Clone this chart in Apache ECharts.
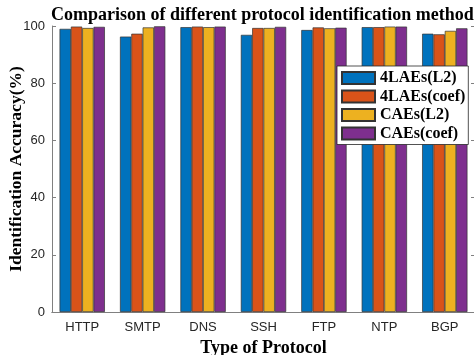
<!DOCTYPE html>
<html>
<head>
<meta charset="utf-8">
<script src="https://cdn.jsdelivr.net/npm/echarts@6/dist/echarts.min.js"></script>
<style>html,body{margin:0;padding:0;background:#fff}#c{width:474px;height:355px}</style>
</head>
<body>
<div id="c"></div>
<script>
const categories = ['HTTP','SMTP','DNS','SSH','FTP','NTP','BGP'];
const seriesNames = ['4LAEs(L2)','4LAEs(coef)','CAEs(L2)','CAEs(coef)'];
const lae_l2   = [99.0, 96.3, 99.6, 96.9, 98.6, 99.6, 97.3];
const lae_coef = [99.8, 97.3, 99.8, 99.3, 99.5, 99.6, 97.1];
const cae_l2   = [99.3, 99.5, 99.6, 99.3, 99.2, 99.8, 98.3];
const cae_coef = [99.7, 99.9, 99.8, 99.7, 99.4, 99.8, 99.2];
const yTicks = [0, 20, 40, 60, 80, 100];
const colors = ['#0072BD','#D95319','#EDB120','#7E2F8E'];

const values = [lae_l2, lae_coef, cae_l2, cae_coef];
const chart = echarts.init(document.getElementById('c'), null, {renderer:'canvas'});
const axisCol = '#262626';
const serifBold = {fontFamily:'Liberation Serif', fontWeight:'bold', color:'#000'};
chart.setOption({
  animation:false,
  backgroundColor:'#fff',
  title:{
    text:'Comparison of different protocol identification methods',
    left:46, top:1,
    textStyle:Object.assign({fontSize:18}, serifBold)
  },
  legend:{
    orient:'vertical', left:337, top:66,
    backgroundColor:'#fff', borderColor:axisCol, borderWidth:0.8,
    padding:[4,3,3,4],
    itemWidth:33, itemHeight:12, itemGap:2.5,
    icon:'rect',
    textStyle:Object.assign({fontSize:16}, serifBold),
    data:seriesNames
  },
  grid:{left:52, top:26, right:-1, bottom:43, containLabel:false, outerBoundsMode:'none'},
  xAxis:[{
    type:'category', data:categories,
    axisLine:{lineStyle:{color:'#808080', width:1}},
    axisTick:{show:false},
    axisLabel:{color:axisCol, fontSize:13, fontFamily:'Liberation Sans', margin:9},
    name:'Type of Protocol', nameLocation:'middle', nameGap:26,
    nameTextStyle:Object.assign({fontSize:18}, serifBold)
  },{
    type:'category', data:categories, position:'top',
    axisLine:{lineStyle:{color:'#808080', width:1}},
    axisTick:{inside:true, alignWithLabel:true, length:4, lineStyle:{color:'#808080'}},
    axisLabel:{show:false}
  }],
  yAxis:[{
    type:'value', min:0, max:100, interval:20,
    axisLine:{show:true, lineStyle:{color:'#808080', width:1}},
    axisTick:{show:true, inside:true, length:4, lineStyle:{color:'#808080'}},
    splitLine:{show:false},
    axisLabel:{color:axisCol, fontSize:13, fontFamily:'Liberation Sans', margin:7,
      formatter:function(v){return yTicks.indexOf(v)>=0 ? String(v) : '';}},
    name:'Identification Accuracy(%)', nameLocation:'middle', nameGap:27,
    nameMoveOverlap:false,
    nameTextStyle:Object.assign({fontSize:17.5}, serifBold)
  },{
    type:'value', min:0, max:100, interval:20, position:'right',
    axisLine:{show:true, lineStyle:{color:'#808080', width:1}},
    axisTick:{show:true, inside:true, length:4, lineStyle:{color:'#808080'}},
    splitLine:{show:false},
    axisLabel:{show:false}
  }],
  series: seriesNames.map(function(n,i){
    return {
      name:n, type:'bar', data:values[i],
      xAxisIndex:0, yAxisIndex:0,
      barGap:'0%', barCategoryGap:'25%',
      itemStyle:{color:colors[i], borderColor:'#333', borderWidth:0.7}
    };
  })
});
</script>
</body>
</html>
